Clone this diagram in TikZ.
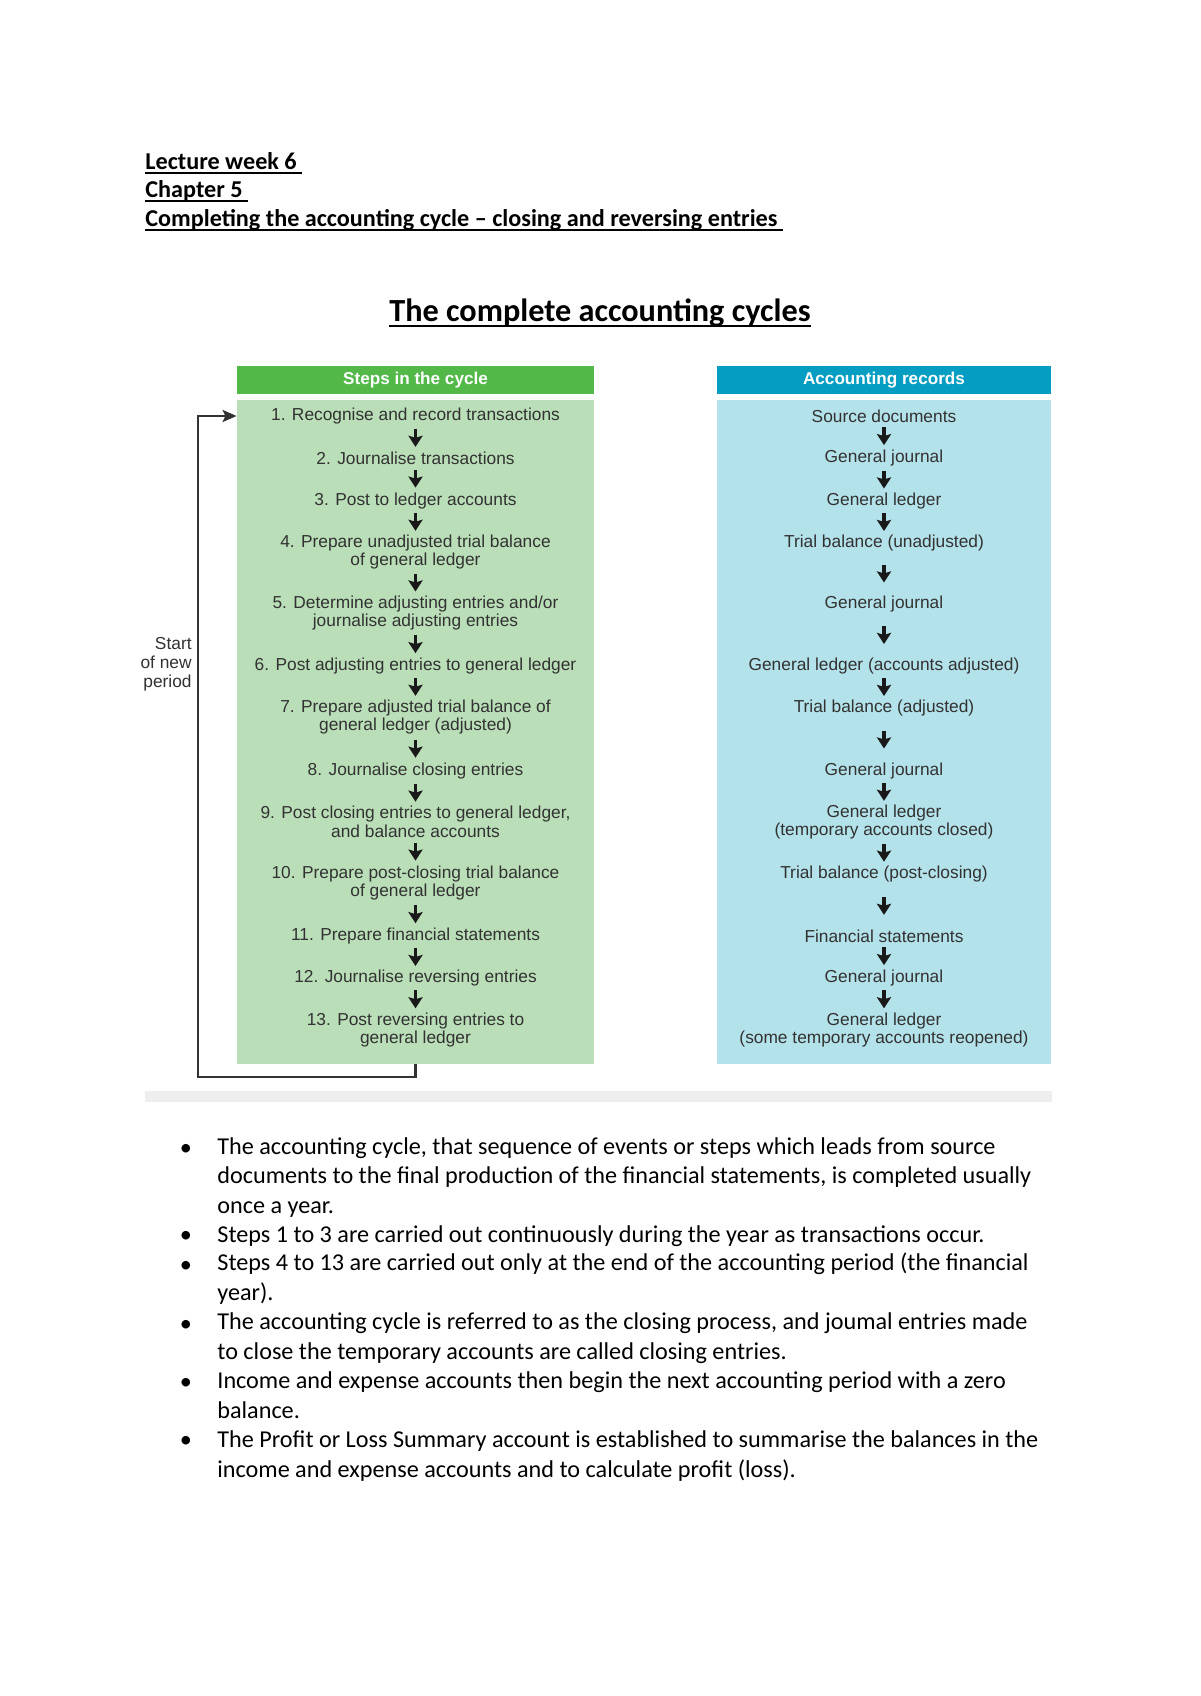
\documentclass[tikz,border=0pt]{standalone}
\usepackage{fontspec}
\setmainfont{Carlito}
\newfontfamily\chartfont{Liberation Sans}
\usetikzlibrary{arrows.meta,positioning,calc}
\definecolor{cyclegreen}{RGB}{82,184,72}
\definecolor{cyclelightgreen}{RGB}{186,223,184}
\definecolor{recordblue}{RGB}{5,157,193}
\definecolor{recordlightblue}{RGB}{180,226,234}
\definecolor{charttext}{RGB}{50,50,50}
\definecolor{rulegray}{RGB}{238,238,238}
\newcommand{\ulinetext}[1]{\setbox0\hbox{#1}\rlap{\rule[-0.15em]{\wd0}{0.07em}}\box0}
\tikzstyle{flow} = [line width=1.6pt, -{Stealth[length=5.5pt,width=7pt,inset=1pt]}, color=black!90, to path={($(\tikztostart.south)!0.5!(\tikztotarget.north)+(0,-9)$) -- ($(\tikztostart.south)!0.5!(\tikztotarget.north)+(0,9)$)}]
\tikzstyle{entry} = [font=\chartfont\fontsize{8.6}{9.3}\selectfont, text=charttext, align=center, inner sep=1pt]
\tikzstyle{header} = [rectangle, inner sep=0pt, minimum height=13.9pt, text=white, font=\chartfont\bfseries\fontsize{8.5}{10}\selectfont]
\tikzstyle{panel} = [rectangle, inner sep=0pt, minimum height=329.4pt]
\tikzstyle{loopline} = [line width=1pt, color=charttext, -{Stealth[length=7pt,width=6pt,inset=1.5pt]}]
\tikzstyle{bodytext} = [font=\fontsize{12}{14.6}\selectfont, align=left, inner sep=0pt, anchor=base west]
\tikzstyle{heading} = [font=\bfseries\fontsize{12}{14}\selectfont, inner sep=0pt, anchor=base west]

\begin{document}
\begin{tikzpicture}[x=0.4961pt, y=-0.4961pt]
\path[use as bounding box, fill=white] (0,0) rectangle (1200,1696);

% Page headings
\node (lecture) [heading] at (145,170) {\ulinetext{Lecture week 6\ }};
\node (chapter) [heading] at (145,198) {\ulinetext{Chapter 5\ }};
\node (topic) [heading] at (145,227) {\ulinetext{Completing the accounting cycle -- closing and reversing entries\ }};
\node (title) [anchor=base, inner sep=0pt, font=\bfseries\fontsize{16}{19}\selectfont] at (600,322) {\ulinetext{The complete accounting cycles}};

% Panels
\node (ghead) [header, fill=cyclegreen, minimum width=177.1pt] at (415.5,380) {Steps in the cycle};
\node (gbody) [panel, fill=cyclelightgreen, minimum width=177.1pt] at (415.5,732) {};
\node (bhead) [header, fill=recordblue, minimum width=165.7pt] at (884,380) {Accounting records};
\node (bbody) [panel, fill=recordlightblue, minimum width=165.7pt] at (884,732) {};

% Steps in the cycle
\node (g1) [entry] at (415.5,416) {1. Recognise and record transactions};
\node (g2) [entry] at (415.5,458) {2. Journalise transactions};
\node (g3) [entry] at (415.5,501) {3. Post to ledger accounts};
\node (g4) [entry] at (415.5,552) {4. Prepare unadjusted trial balance\\of general ledger};
\node (g5) [entry] at (415.5,613) {5. Determine adjusting entries and/or\\journalise adjusting entries};
\node (g6) [entry] at (415.5,666) {6. Post adjusting entries to general ledger};
\node (g7) [entry] at (415.5,717) {7. Prepare adjusted trial balance of\\general ledger (adjusted)};
\node (g8) [entry] at (415.5,771) {8. Journalise closing entries};
\node (g9) [entry] at (415.5,822) {9. Post closing entries to general ledger,\\and balance accounts};
\node (g10) [entry] at (415.5,883) {10. Prepare post-closing trial balance\\of general ledger};
\node (g11) [entry] at (415.5,936) {11. Prepare financial statements};
\node (g12) [entry] at (415.5,978) {12. Journalise reversing entries};
\node (g13) [entry] at (415.5,1030) {13. Post reversing entries to\\general ledger};

% Accounting records
\node (r1) [entry] at (884,416) {Source documents};
\node (r2) [entry] at (884,458) {General journal};
\node (r3) [entry] at (884,501) {General ledger};
\node (r4) [entry] at (884,543) {Trial balance (unadjusted)};
\node (r5) [entry] at (884,604) {General journal};
\node (r6) [entry] at (884,666) {General ledger (accounts adjusted)};
\node (r7) [entry] at (884,708) {Trial balance (adjusted)};
\node (r8) [entry] at (884,771) {General journal};
\node (r9) [entry] at (884,822) {General ledger\\(temporary accounts closed)};
\node (r10) [entry] at (884,874) {Trial balance (post-closing)};
\node (r11) [entry] at (884,936) {Financial statements};
\node (r12) [entry] at (884,978) {General journal};
\node (r13) [entry] at (884,1030) {General ledger\\(some temporary accounts reopened)};

% Arrows
\draw[flow] (g1) to (g2);
\draw[flow] (g2) to (g3);
\draw[flow] (g3) to (g4);
\draw[flow] (g4) to (g5);
\draw[flow] (g5) to (g6);
\draw[flow] (g6) to (g7);
\draw[flow] (g7) to (g8);
\draw[flow] (g8) to (g9);
\draw[flow] (g9) to (g10);
\draw[flow] (g10) to (g11);
\draw[flow] (g11) to (g12);
\draw[flow] (g12) to (g13);
\draw[flow] (r1) to (r2);
\draw[flow] (r2) to (r3);
\draw[flow] (r3) to (r4);
\draw[flow] (r4) to (r5);
\draw[flow] (r5) to (r6);
\draw[flow] (r6) to (r7);
\draw[flow] (r7) to (r8);
\draw[flow] (r8) to (r9);
\draw[flow] (r9) to (r10);
\draw[flow] (r10) to (r11);
\draw[flow] (r11) to (r12);
\draw[flow] (r12) to (r13);

% Back to the start
\node (restart) [entry, align=right, anchor=east, inner sep=0pt, font=\chartfont\fontsize{8.6}{9.4}\selectfont] at (192,664) {Start\\of new\\period};
\coordinate (loopcorner) at (198,1077);
\draw[loopline] (gbody.south) |- (loopcorner) |- (gbody.west |- g1);

% Rule under the figure
\fill[rulegray] (145,1091) rectangle (1052,1102);

% Notes (placed at the baseline of their last line)
\node (dot1) [bodytext, anchor=base] at (186,1155) {\textbullet};
\node (note1) [bodytext] at (217,1213) {The accounting cycle, that sequence of events or steps which leads from source\\documents to the final production of the financial statements, is completed usually\\once a year.};
\node (dot2) [bodytext, anchor=base] at (186,1242) {\textbullet};
\node (note2) [bodytext] at (217,1242) {Steps 1 to 3 are carried out continuously during the year as transactions occur.};
\node (dot3) [bodytext, anchor=base] at (186,1272) {\textbullet};
\node (note3) [bodytext] at (217,1300) {Steps 4 to 13 are carried out only at the end of the accounting period (the financial\\year).};
\node (dot4) [bodytext, anchor=base] at (186,1331) {\textbullet};
\node (note4) [bodytext] at (217,1359) {The accounting cycle is referred to as the closing process, and joumal entries made\\to close the temporary accounts are called closing entries.};
\node (dot5) [bodytext, anchor=base] at (186,1389) {\textbullet};
\node (note5) [bodytext] at (217,1418) {Income and expense accounts then begin the next accounting period with a zero\\balance.};
\node (dot6) [bodytext, anchor=base] at (186,1447) {\textbullet};
\node (note6) [bodytext] at (217,1477) {The Profit or Loss Summary account is established to summarise the balances in the\\income and expense accounts and to calculate profit (loss).};
\end{tikzpicture}
\end{document}
